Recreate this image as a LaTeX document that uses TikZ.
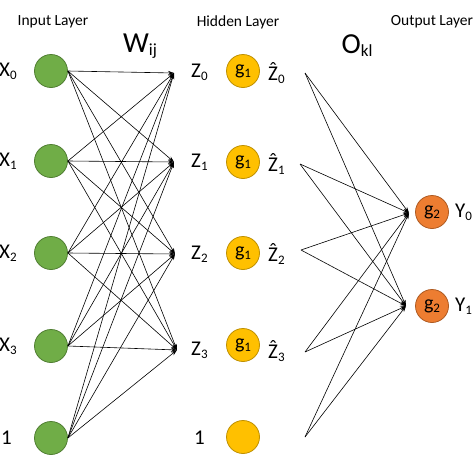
\documentclass[tikz,border=0pt]{standalone}
\usepackage{fontspec}
\setmainfont{Carlito}
\usetikzlibrary{arrows.meta}
\newcommand{\sbs}[1]{{\fontsize{13}{13}\selectfont\raisebox{-3pt}{#1}}}
\begin{document}
\begin{tikzpicture}[x=1pt,y=-1pt,
  neuron/.style={circle,minimum size=33pt,inner sep=0pt,line width=0.8pt},
  inp/.style={neuron,fill={rgb,255:red,112;green,173;blue,71},draw={rgb,255:red,80;green,126;blue,50}},
  hid/.style={neuron,fill={rgb,255:red,255;green,192;blue,0},draw={rgb,255:red,191;green,144;blue,0}},
  outn/.style={neuron,fill={rgb,255:red,237;green,125;blue,49},draw={rgb,255:red,174;green,90;blue,33}},
  lbl/.style={font=\fontsize{21}{21}\selectfont,inner sep=0pt,anchor=west},
  gl/.style={font=\fontsize{20}{20}\selectfont},
  ttl/.style={font=\fontsize{15.5}{15.5}\selectfont,inner sep=0pt},
  big/.style={font=\fontsize{29}{29}\selectfont,inner sep=0pt},
  conn/.style={line width=0.6pt,-{Stealth[length=6pt,width=4pt]}}]
\useasboundingbox (0,0) rectangle (474,474);
% titles
\node[ttl] (t1) at (53,22) {Input Layer};
\node[ttl] (t2) at (238,22) {Hidden Layer};
\node[ttl] (t3) at (432,22) {Output Layer};
\node[big] (w) at (140,46) {W\sbs{\fontsize{17}{17}\selectfont ij}};
\node[big] (o) at (357,46) {O\sbs{\fontsize{17}{17}\selectfont kl}};
% input layer
\node[inp] (x0) at (51,71) {};
\node[inp] (x1) at (51,161) {};
\node[inp] (x2) at (51,253) {};
\node[inp] (x3) at (51,346) {};
\node[inp] (x4) at (51,438) {};
\node[lbl] (lx0) at (-1,71) {X\sbs{0}};
\node[lbl] (lx1) at (-1,161) {X\sbs{1}};
\node[lbl] (lx2) at (-1,253) {X\sbs{2}};
\node[lbl] (lx3) at (-1,346) {X\sbs{3}};
\node[lbl] (lx4) at (1,438) {1};
% arrow ends at Z
\coordinate (z0) at (174,73);
\coordinate (z1) at (174,162);
\coordinate (z2) at (175,254);
\coordinate (z3) at (177,350);
\node[lbl] (lz0) at (191,72) {Z\sbs{0}};
\node[lbl] (lz1) at (191,162) {Z\sbs{1}};
\node[lbl] (lz2) at (191,254) {Z\sbs{2}};
\node[lbl] (lz3) at (191,350) {Z\sbs{3}};
\node[lbl] (lz4) at (194,438) {1};
% hidden layer
\node[hid,gl] (h0) at (243,71) {g\sbs{1}};
\node[hid,gl] (h1) at (243,162) {g\sbs{1}};
\node[hid,gl] (h2) at (243,253) {g\sbs{1}};
\node[hid,gl] (h3) at (243,345) {g\sbs{1}};
\node[hid] (h4) at (243,437) {};
\node[lbl] (lh0) at (268,73) {Ẑ\sbs{0}};
\node[lbl] (lh1) at (268,164) {Ẑ\sbs{1}};
\node[lbl] (lh2) at (268,254) {Ẑ\sbs{2}};
\node[lbl] (lh3) at (268,351) {Ẑ\sbs{3}};
\coordinate (s0) at (305,73);
\coordinate (s1) at (300,164);
\coordinate (s2) at (301,250);
\coordinate (s3) at (305,352);
\coordinate (s4) at (305,437);
% output layer
\coordinate (y0) at (409,213);
\coordinate (y1) at (406,306);
\node[outn,gl] (o0) at (432,212) {g\sbs{2}};
\node[outn,gl] (o1) at (432,306) {g\sbs{2}};
\node[lbl] (ly0) at (455,212) {Y\sbs{0}};
\node[lbl] (ly1) at (455,306) {Y\sbs{1}};
% connections
\foreach \i in {0,...,4}{
  \foreach \j in {0,...,3}{
    \draw[conn] (x\i.east) -- (z\j);
  }
}
\foreach \i in {0,...,4}{
  \foreach \j in {0,1}{
    \draw[conn] (s\i) -- (y\j);
  }
}
\end{tikzpicture}
\end{document}
